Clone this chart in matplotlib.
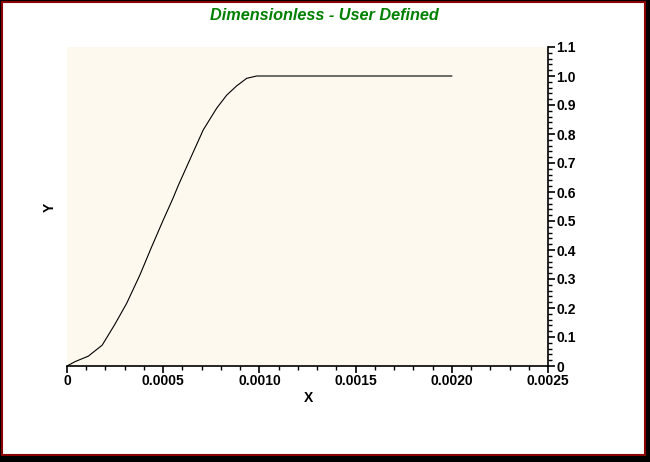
import matplotlib

matplotlib.use("Agg")
import matplotlib.pyplot as plt
from matplotlib.patches import Rectangle
from matplotlib.ticker import AutoMinorLocator

# curve
x_vals = [0.0, 0.0000416, 0.000111, 0.000183, 0.000249, 0.00031, 0.000379, 0.00044,
          0.0005, 0.000552, 0.000578, 0.00063, 0.000708, 0.000778, 0.00083,
          0.000882, 0.000934, 0.000986, 0.0010, 0.0020]
y_vals = [0.0, 0.015, 0.034, 0.072, 0.144, 0.216, 0.314, 0.411,
          0.503, 0.58, 0.622, 0.699, 0.814, 0.889, 0.934,
          0.966, 0.992, 1.0, 1.0, 1.0]

x_ticks = [0, 0.0005, 0.0010, 0.0015, 0.0020, 0.0025]
x_tick_labels = ["0", "0.0005", "0.0010", "0.0015", "0.0020", "0.0025"]
y_ticks = [0, 0.1, 0.2, 0.3, 0.4, 0.5, 0.6, 0.7, 0.8, 0.9, 1.0, 1.1]
y_tick_labels = ["0", "0.1", "0.2", "0.3", "0.4", "0.5", "0.6", "0.7", "0.8", "0.9", "1.0", "1.1"]

plt.rcParams["font.family"] = ["Liberation Sans", "DejaVu Sans"]

fig = plt.figure(figsize=(6.5, 4.62), dpi=100, facecolor="black")
# white panel with dark red edge, black shadow showing right/bottom
fig.patches.append(Rectangle((2 / 650, 7 / 462), 643 / 650, 453 / 462, transform=fig.transFigure,
                             facecolor="white", edgecolor="#8b0000", linewidth=1.5, zorder=-5))

ax = fig.add_axes([67 / 650, 96 / 462, 481 / 650, 319 / 462])
ax.set_zorder(2)
ax.set_facecolor("#fef9ee")
ax.plot(x_vals, y_vals, color="black", linewidth=0.8)

ax.set_xlim(0, 0.0025)
ax.set_ylim(0, 1.1)
ax.set_xticks(x_ticks)
ax.set_xticklabels(x_tick_labels)
ax.set_yticks(y_ticks)
ax.set_yticklabels(y_tick_labels)
ax.xaxis.set_minor_locator(AutoMinorLocator(5))
ax.yaxis.set_minor_locator(AutoMinorLocator(5))

for side in ("left", "top"):
    ax.spines[side].set_visible(False)
for side in ("right", "bottom"):
    ax.spines[side].set_linewidth(1.2)

ax.yaxis.tick_right()
ax.tick_params(axis="both", which="major", direction="out", length=5, width=1.2,
               labelsize=10, pad=1)
ax.tick_params(axis="both", which="minor", direction="out", length=3, width=1)
for lbl in ax.get_xticklabels() + ax.get_yticklabels():
    lbl.set_fontweight("bold")

fig.text(308 / 650, 1 - 398 / 462, "X", ha="center", va="center", fontsize=10, fontweight="bold")
fig.text(50 / 650, 1 - 207 / 462, "Y", ha="center", va="center", fontsize=10, fontweight="bold",
         rotation=90)
fig.text(324 / 650, 1 - 16 / 462, "Dimensionless - User Defined", ha="center", va="center",
         fontsize=11.7, fontweight="bold", fontstyle="italic", color="#008000")

fig.savefig("out.png", dpi=100, facecolor=fig.get_facecolor())
